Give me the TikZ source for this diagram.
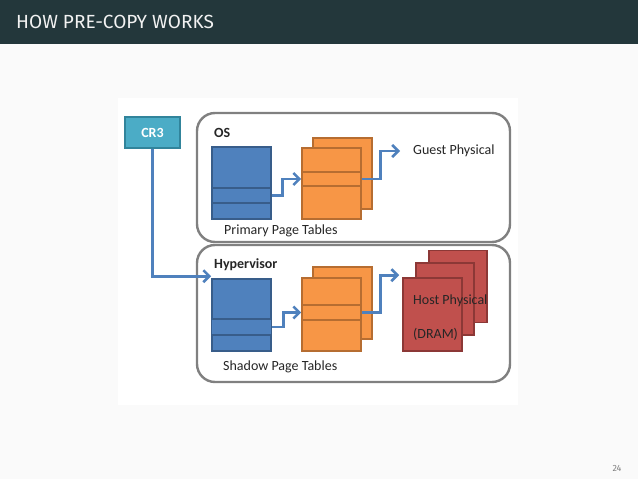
\documentclass[tikz,border=0pt]{standalone}
\usepackage{fontspec}
\setmainfont{Carlito}
\newfontfamily\firafont{Fira Sans}
\usepackage{xcolor}
\usetikzlibrary{arrows.meta}

\definecolor{headbg}{HTML}{23373B}
\definecolor{slidebg}{HTML}{FAFAFA}
\definecolor{tblblue}{HTML}{4F81BD}
\definecolor{tblblueedge}{HTML}{385D8A}
\definecolor{tblorange}{HTML}{F79646}
\definecolor{tblorangeedge}{HTML}{B66D31}
\definecolor{tblred}{HTML}{C0504D}
\definecolor{tblrededge}{HTML}{8C3836}
\definecolor{regteal}{HTML}{4BACC6}
\definecolor{regtealedge}{HTML}{31849B}
\definecolor{layergray}{HTML}{808080}

\tikzset{
  layerbox/.style={draw=layergray, line width=2.4pt, rounded corners=18pt, minimum width=313pt},
  bluetbl/.style={draw=tblblueedge, fill=tblblue, line width=1.6pt, minimum width=59pt, inner sep=0pt},
  orangetbl/.style={draw=tblorangeedge, fill=tblorange, line width=1.6pt, minimum width=59pt, minimum height=71pt, inner sep=0pt},
  redtbl/.style={draw=tblrededge, fill=tblred, line width=1.6pt, minimum width=58pt, minimum height=72pt, inner sep=0pt},
  walk/.style={draw=tblblue, line width=2.8pt, -{Straight Barb[length=6pt,width=12pt,line width=2.6pt]}},
  lbl/.style={inner sep=0pt, text=black!85, font=\fontsize{14}{16}\selectfont}
}

\begin{document}
\begin{tikzpicture}[x=1pt,y=-1pt]
  % slide
  \fill[slidebg] (0,0) rectangle (638,479);
  \useasboundingbox (0,0) rectangle (638,479);
  \fill[headbg] (0,0) rectangle (638,44);
  \node[anchor=west, text=white!95!black, inner sep=0pt, font=\firafont\fontsize{19}{21}\selectfont] (title) at (16,22) {HOW PRE-COPY WORKS};
  \node[text=black!50, inner sep=0pt, font=\firafont\fontsize{9}{11}\selectfont] (pagenum) at (617,468) {24};
  \fill[white] (118,98) rectangle (518,405);

  % layers
  \node[layerbox, minimum height=129pt] (os) at (353.5,177.5) {};
  \node[layerbox, minimum height=137pt] (hyp) at (353.5,313.5) {};
  \node[lbl, anchor=west, font=\bfseries\fontsize{14}{16}\selectfont] (oslabel) at (214,133) {OS};
  \node[lbl, anchor=west, font=\bfseries\fontsize{14}{16}\selectfont] (hyplabel) at (214,265) {Hypervisor};

  \node[draw=regtealedge, fill=regteal, line width=1.6pt, minimum width=55pt, minimum height=31pt, text=white, font=\bfseries\fontsize{14}{16}\selectfont] (cr3) at (152.5,132.5) {CR3};

  % primary page tables
  \node[bluetbl, minimum height=72pt] (ptblue) at (241.5,183) {};
  \node[bluetbl, minimum height=15pt] (ptrow) at (241.5,195.5) {};
  \node[orangetbl] (ptback) at (342.5,173.5) {};
  \node[orangetbl] (ptfront) at (331.5,183.5) {};
  \node[orangetbl, minimum height=14pt] (porow) at (331.5,179) {};
  \node[lbl, anchor=west] (guest) at (413,151) {Guest Physical};
  \node[lbl, anchor=west] (primary) at (224,231) {Primary Page Tables};

  % shadow page tables
  \node[bluetbl, minimum height=72pt] (stblue) at (241.5,315) {};
  \node[bluetbl, minimum height=16pt, minimum width=60pt] (strow) at (241.5,327) {};
  \node[orangetbl, minimum height=72pt] (stback) at (342.5,303) {};
  \node[orangetbl, minimum height=73pt] (stfront) at (331.5,314.5) {};
  \node[orangetbl, minimum height=15pt] (sorow) at (331.5,312.5) {};
  \node[redtbl] (redback) at (458,286.5) {};
  \node[redtbl] (redmid) at (445,299) {};
  \node[redtbl, minimum width=59pt, minimum height=73pt] (redfront) at (432.5,314.5) {};
  \node[lbl, anchor=west] (host) at (413,301) {Host Physical};
  \node[lbl, anchor=west] (dram) at (413,334) {(DRAM)};
  \node[lbl, anchor=west] (shadow) at (223,367) {Shadow Page Tables};

  % walks
  \draw[walk] (cr3.south) |- ([yshift=2pt]stblue.north west);
  \draw[walk] (ptrow.east) -- ++(11,0) |- (porow.west);
  \draw[walk, shorten >=13pt] (porow.east) -- ++(19,0) |- (guest.west);
  \draw[walk] (strow.east) -- ++(11,0) |- (sorow.west);
  \draw[walk, shorten >=3pt] (sorow.east) -- ++(19,0) |- ([yshift=2pt]redfront.north west);
\end{tikzpicture}
\end{document}
